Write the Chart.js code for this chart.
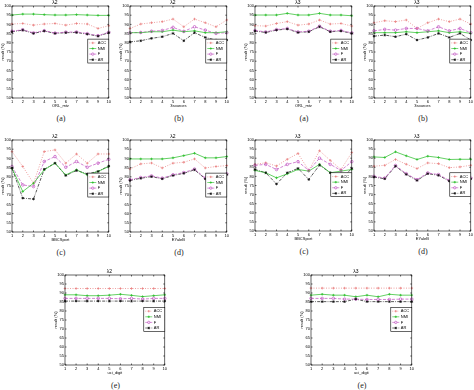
<!DOCTYPE html>
<html lang="en">
<head>
<meta charset="UTF-8">
<script src="https://cdn.jsdelivr.net/npm/chart.js"></script>
<style>
  body { margin: 0; background: #fff; }
  #fig { position: relative; width: 474px; height: 390px; overflow: hidden; }
  #fig canvas { position: absolute; }
  .cap { position: absolute; font-family: "Liberation Serif", serif; font-size: 8px; transform: translate(-50%, -50%); color: #222; }
</style>
</head>
<body>
<div id="fig"></div>
<script>
// parameter values on the x axis and y ticks
const xTicks = ['1', '2', '3', '4', '5', '6', '7', '8', '9', '10'];
const yMin = 50, yMax = 100, yStep = 5;

// lambda2 panels
const acc_l2a = [90.2, 90.5, 89.6, 90.2, 90.5, 89.6, 90.5, 90.2, 87.8, 89.3];
const nmi_l2a = [95.1, 95.6, 95.6, 95.3, 95.1, 95.1, 95.3, 95.1, 94.9, 94.9];
const f_l2a   = [86.3, 87.1, 85.4, 86.6, 85.3, 85.8, 85.9, 85.0, 83.9, 85.7];
const ar_l2a  = [86.0, 86.9, 85.1, 86.4, 85.1, 85.5, 85.6, 84.7, 83.6, 85.5];

const acc_l2b = [87.8, 90.2, 90.9, 91.5, 92.9, 88.7, 92.9, 90.9, 88.7, 92.4];
const nmi_l2b = [85.5, 85.5, 86.0, 86.0, 86.9, 86.0, 86.5, 85.5, 85.5, 86.0];
const f_l2b   = [85.5, 85.6, 86.3, 86.7, 88.4, 86.2, 88.7, 86.9, 85.1, 85.5];
const ar_l2b  = [80.5, 81.1, 82.4, 83.3, 85.1, 81.1, 85.5, 82.9, 81.5, 81.5];

const acc_l2c = [93.7, 85.6, 76.5, 93.7, 94.6, 87.4, 92.4, 87.4, 92.4, 92.4];
const nmi_l2c = [84.7, 72.0, 76.5, 83.8, 87.4, 81.0, 83.8, 81.0, 82.9, 85.6];
const f_l2c   = [85.6, 75.6, 74.7, 88.3, 91.0, 85.2, 88.3, 85.2, 87.4, 89.5];
const ar_l2c  = [84.7, 68.4, 67.9, 84.1, 87.4, 80.7, 83.4, 81.6, 82.9, 85.9];

const acc_l2d = [84.3, 87.0, 87.5, 84.8, 87.4, 87.9, 89.7, 84.8, 85.6, 86.1];
const nmi_l2d = [89.7, 89.7, 89.7, 89.7, 90.3, 91.5, 92.8, 90.3, 90.3, 91.0];
const f_l2d   = [78.4, 79.6, 80.5, 79.3, 81.1, 82.3, 84.2, 79.3, 80.5, 81.6];
const ar_l2d  = [78.0, 79.2, 80.1, 78.9, 80.7, 81.9, 83.8, 78.9, 80.1, 81.2];

const acc_l2e = [92.5, 92.5, 92.5, 92.5, 92.5, 92.5, 92.5, 92.5, 92.5, 92.5];
const nmi_l2e = [89.0, 89.0, 88.5, 88.5, 88.8, 89.3, 88.7, 88.0, 88.5, 89.0];
const f_l2e   = [87.0, 87.0, 87.0, 87.0, 87.0, 86.8, 87.0, 86.6, 87.0, 87.0];
const ar_l2e  = [85.5, 85.5, 85.5, 85.5, 85.5, 85.5, 85.5, 85.5, 85.5, 85.5];

// lambda3 panels
const acc_l3a = [89.3, 89.1, 90.5, 91.5, 89.6, 90.2, 92.4, 90.2, 90.5, 89.1];
const nmi_l3a = [95.1, 95.1, 95.1, 96.0, 95.1, 95.1, 96.0, 95.1, 95.1, 94.7];
const f_l3a   = [86.7, 85.9, 87.2, 87.8, 85.9, 86.3, 89.0, 86.3, 86.7, 85.4];
const ar_l3a  = [86.4, 85.6, 86.9, 87.5, 85.6, 86.0, 88.7, 86.0, 86.4, 85.1];

const acc_l3b = [90.9, 92.0, 91.5, 92.4, 87.8, 90.9, 92.9, 91.5, 92.9, 90.2];
const nmi_l3b = [85.5, 85.5, 85.5, 86.0, 85.5, 86.0, 86.5, 85.5, 86.0, 85.1];
const f_l3b   = [86.5, 87.3, 86.9, 87.8, 87.8, 86.5, 88.7, 86.5, 87.8, 85.5];
const ar_l3b  = [83.6, 84.2, 83.3, 84.7, 81.5, 82.9, 85.1, 82.9, 85.1, 81.5];

const acc_l3c = [86.6, 87.5, 85.7, 89.4, 92.6, 83.3, 94.1, 88.8, 83.8, 93.1];
const nmi_l3c = [83.3, 82.0, 79.2, 81.4, 83.8, 82.9, 86.6, 82.0, 82.9, 83.8];
const f_l3c   = [86.1, 86.6, 83.8, 86.6, 88.1, 83.3, 90.0, 86.6, 83.3, 88.1];
const ar_l3c  = [83.8, 82.0, 75.8, 82.0, 84.4, 78.3, 86.2, 82.0, 78.3, 84.4];

const acc_l3d = [85.6, 86.1, 89.3, 86.7, 84.3, 87.4, 87.0, 84.8, 85.2, 86.1];
const nmi_l3d = [90.7, 90.4, 93.5, 91.3, 89.3, 91.1, 90.4, 89.3, 89.4, 89.4];
const f_l3d   = [80.0, 79.1, 86.0, 81.5, 78.2, 81.9, 81.0, 77.8, 79.7, 79.1];
const ar_l3d  = [79.6, 78.7, 85.6, 81.1, 77.8, 81.5, 80.6, 77.4, 79.3, 78.7];

const acc_l3e = [92.7, 92.7, 92.7, 92.7, 92.7, 92.7, 92.7, 92.7, 92.7, 92.7];
const nmi_l3e = [88.8, 89.3, 88.8, 88.8, 87.9, 88.8, 87.9, 89.3, 88.8, 88.8];
const f_l3e   = [87.0, 87.0, 87.0, 86.6, 86.6, 86.4, 86.4, 86.4, 86.6, 86.6];
const ar_l3e  = [85.2, 85.2, 85.2, 85.2, 86.6, 85.2, 85.2, 85.2, 85.2, 85.2];

const seriesNames = ['ACC', 'NMI', 'F', 'AR'];

// styles for the four measures
const styles = [
  { color: '#e87878', dash: [1, 1.5], marker: 'plus' },
  { color: '#22bb22', dash: [],       marker: 'plus' },
  { color: '#c050c0', dash: [3, 1.5], marker: 'circle' },
  { color: '#111111', dash: [3, 1.2, 0.8, 1.2], marker: 'star' }
];

function marker(ctx, type, x, y, r, color) {
  ctx.save();
  ctx.setLineDash([]);
  ctx.strokeStyle = color;
  ctx.lineWidth = 0.7;
  ctx.beginPath();
  if (type === 'circle') {
    ctx.arc(x, y, r, 0, Math.PI * 2);
  } else {
    ctx.moveTo(x - r, y); ctx.lineTo(x + r, y);
    ctx.moveTo(x, y - r); ctx.lineTo(x, y + r);
    if (type === 'star') {
      const d = r * 0.7;
      ctx.moveTo(x - d, y - d); ctx.lineTo(x + d, y + d);
      ctx.moveTo(x - d, y + d); ctx.lineTo(x + d, y - d);
    }
  }
  ctx.stroke();
  ctx.restore();
}

// MATLAB-like box, inward ticks, markers and legend
const boxPlugin = {
  id: 'box',
  afterDatasetsDraw(chart) {
    const { ctx, chartArea: a, scales } = chart;
    chart.data.datasets.forEach((ds, i) => {
      chart.getDatasetMeta(i).data.forEach(p => marker(ctx, styles[i].marker, p.x, p.y, 1.3, styles[i].color));
    });
    ctx.save();
    ctx.strokeStyle = '#000';
    ctx.lineWidth = 0.6;
    ctx.setLineDash([]);
    ctx.strokeRect(a.left, a.top, a.right - a.left, a.bottom - a.top);
    ctx.beginPath();
    scales.x.ticks.forEach((t, i) => {
      const x = scales.x.getPixelForTick(i);
      ctx.moveTo(x, a.bottom); ctx.lineTo(x, a.bottom - 1.5);
      ctx.moveTo(x, a.top); ctx.lineTo(x, a.top + 1.5);
    });
    scales.y.ticks.forEach(t => {
      const y = scales.y.getPixelForValue(t.value);
      ctx.moveTo(a.left, y); ctx.lineTo(a.left + 1.5, y);
      ctx.moveTo(a.right, y); ctx.lineTo(a.right - 1.5, y);
    });
    ctx.stroke();

    // legend box
    const lw = 21, rh = 5.6;
    const lx = a.right - lw, ly = a.top + (a.bottom - a.top) * 0.36;
    ctx.fillStyle = '#fff';
    ctx.fillRect(lx, ly, lw, rh * 4 + 1.5);
    ctx.strokeRect(lx, ly, lw, rh * 4 + 1.5);
    ctx.font = '4px "Liberation Sans", Arial, sans-serif';
    ctx.textBaseline = 'middle';
    seriesNames.forEach((name, i) => {
      const y = ly + 1 + rh * (i + 0.5);
      ctx.strokeStyle = styles[i].color;
      ctx.setLineDash(styles[i].dash);
      ctx.beginPath();
      ctx.moveTo(lx + 1.5, y); ctx.lineTo(lx + 8.5, y);
      ctx.stroke();
      marker(ctx, styles[i].marker, lx + 5, y, 1.2, styles[i].color);
      ctx.fillStyle = '#000';
      ctx.fillText(name, lx + 10, y);
    });
    ctx.restore();
  }
};

const yw = 12, xh = 10, pr = 2, titleH = 6;

const panels = [
  { title: 'λ2', xlabel: 'ORL_mtv',   d: [acc_l2a, nmi_l2a, f_l2a, ar_l2a], l: 12,  t: 6,   r: 110, b: 98,  cap: '(a)' },
  { title: 'λ2', xlabel: '3sources',  d: [acc_l2b, nmi_l2b, f_l2b, ar_l2b], l: 130, t: 6,   r: 228, b: 98,  cap: '(b)' },
  { title: 'λ3', xlabel: 'ORL_mtv',   d: [acc_l3a, nmi_l3a, f_l3a, ar_l3a], l: 255, t: 6,   r: 353, b: 98,  cap: '(a)' },
  { title: 'λ3', xlabel: '3sources',  d: [acc_l3b, nmi_l3b, f_l3b, ar_l3b], l: 374, t: 6,   r: 472, b: 98,  cap: '(b)' },
  { title: 'λ2', xlabel: 'BBCSport',  d: [acc_l2c, nmi_l2c, f_l2c, ar_l2c], l: 12,  t: 140, r: 110, b: 232, cap: '(c)' },
  { title: 'λ2', xlabel: 'EYaleB',    d: [acc_l2d, nmi_l2d, f_l2d, ar_l2d], l: 130, t: 140, r: 228, b: 232, cap: '(d)' },
  { title: 'λ3', xlabel: 'BBCSport',  d: [acc_l3c, nmi_l3c, f_l3c, ar_l3c], l: 255, t: 140, r: 353, b: 231, cap: '(c)' },
  { title: 'λ3', xlabel: 'EYaleB',    d: [acc_l3d, nmi_l3d, f_l3d, ar_l3d], l: 374, t: 140, r: 472, b: 231, cap: '(d)' },
  { title: 'λ2', xlabel: 'uci_digit', d: [acc_l2e, nmi_l2e, f_l2e, ar_l2e], l: 65,  t: 275, r: 166, b: 365, cap: '(e)' },
  { title: 'λ3', xlabel: 'uci_digit', d: [acc_l3e, nmi_l3e, f_l3e, ar_l3e], l: 311, t: 275, r: 413, b: 365, cap: '(e)' }
];

const fig = document.getElementById('fig');
const tickFont = { family: '"Liberation Sans", Arial, sans-serif', size: 4 };

panels.forEach(p => {
  const cv = document.createElement('canvas');
  const w = yw + (p.r - p.l) + pr, h = titleH + (p.b - p.t) + xh;
  cv.width = w; cv.height = h;
  cv.style.left = (p.l - yw) + 'px';
  cv.style.top = (p.t - titleH) + 'px';
  cv.style.width = w + 'px'; cv.style.height = h + 'px';
  fig.appendChild(cv);

  const cap = document.createElement('div');
  cap.className = 'cap';
  cap.textContent = p.cap;
  cap.style.left = ((p.l + p.r) / 2) + 'px';
  cap.style.top = (p.b + 20) + 'px';
  fig.appendChild(cap);

  new Chart(cv.getContext('2d'), {
    type: 'line',
    data: {
      labels: xTicks,
      datasets: p.d.map((vals, i) => ({
        label: seriesNames[i],
        data: vals,
        borderColor: styles[i].color,
        borderDash: styles[i].dash,
        borderWidth: 0.7,
        pointRadius: 0,
        fill: false,
        tension: 0
      }))
    },
    options: {
      responsive: false,
      devicePixelRatio: 1,
      animation: false,
      layout: { padding: { top: 0, right: pr, bottom: 0, left: 0 } },
      plugins: {
        legend: { display: false },
        tooltip: { enabled: false },
        title: {
          display: true, text: p.title, color: '#000',
          font: { family: '"Liberation Sans", Arial, sans-serif', size: 5, weight: 'normal' },
          padding: { top: 0, bottom: 0 }
        }
      },
      scales: {
        x: {
          type: 'category',
          offset: false,
          grid: { display: false, drawTicks: false },
          border: { display: false },
          ticks: { font: tickFont, color: '#000', padding: 1, maxRotation: 0, autoSkip: false },
          title: { display: true, text: p.xlabel, font: tickFont, color: '#000', padding: 0 },
          afterFit: s => { s.height = xh; }
        },
        y: {
          min: yMin, max: yMax,
          grid: { display: false, drawTicks: false },
          border: { display: false },
          ticks: { stepSize: yStep, font: tickFont, color: '#000', padding: 1 },
          title: { display: true, text: 'result (%)', font: tickFont, color: '#000', padding: 0 },
          afterFit: s => { s.width = yw; }
        }
      }
    },
    plugins: [boxPlugin]
  });
});
</script>
</body>
</html>
